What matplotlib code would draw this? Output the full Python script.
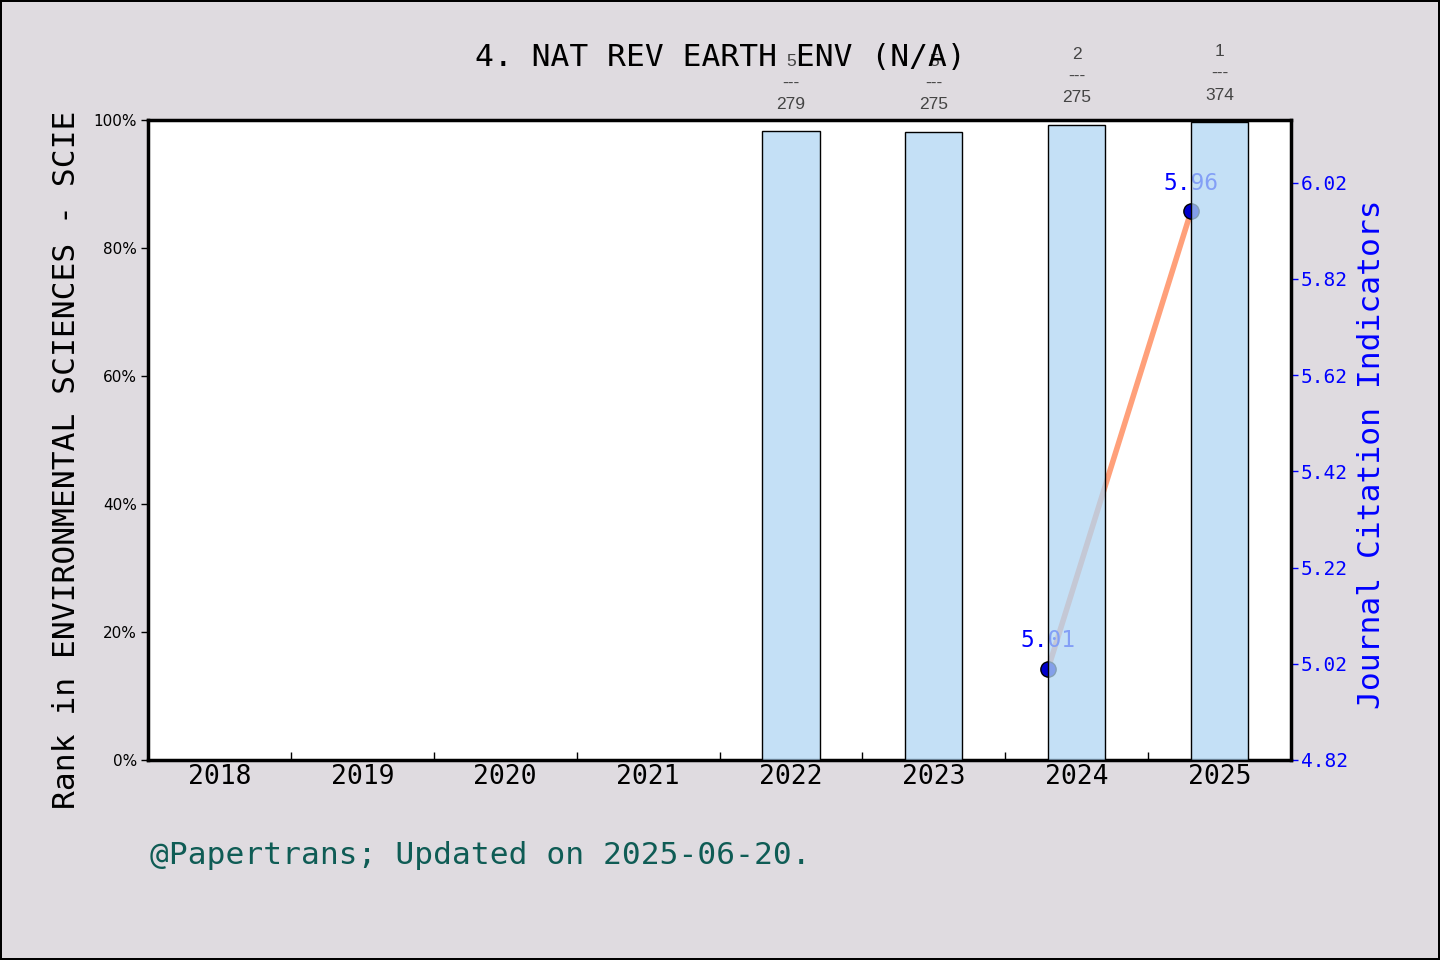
import matplotlib
matplotlib.use("Agg")
import matplotlib.pyplot as plt
import numpy as np

years = ["2018", "2019", "2020", "2021", "2022", "2023", "2024", "2025"]
rank_pos = [None, None, None, None, 5, 5, 2, 1]
rank_total = [None, None, None, None, 279, 275, 275, 374]
jci_years = ["2024", "2025"]
jci_values = [5.01, 5.96]

BG = "#dfdbe0"
MONO = "DejaVu Sans Mono"

fig = plt.figure(figsize=(14.4, 9.6), dpi=100, facecolor=BG)
fig.patch.set_edgecolor("black")
fig.patch.set_linewidth(1.5)

pos = [148 / 1440, 1 - 760 / 960, (1291 - 148) / 1440, (760 - 120) / 960]
ax2 = fig.add_axes(pos)   # line axis (drawn below)
ax = fig.add_axes(pos, sharex=ax2)  # bar axis (drawn on top)
ax2.set_zorder(1)
ax.set_zorder(2)
ax.patch.set_visible(False)
ax2.set_facecolor("white")

x = np.arange(len(years))

# bars
for i, (p, t) in enumerate(zip(rank_pos, rank_total)):
    if p is None:
        continue
    h = (1 - p / t) * 100
    ax.bar(x[i], h, width=0.4, facecolor=(0.69, 0.84, 0.955, 0.75),
           edgecolor=(0, 0, 0, 1), linewidth=1.0, zorder=3)
    ax.text(x[i], h + 3.0, f"{p}\n---\n{t}", ha="center", va="bottom",
            fontsize=12.5, color="#444444", family="Liberation Sans",
            linespacing=1.55, clip_on=False)

ax.set_xlim(-0.5, len(years) - 0.5)
ax.set_ylim(0, 100)
ax.set_yticks([0, 20, 40, 60, 80, 100])
ax.set_yticklabels([f"{v}%" for v in [0, 20, 40, 60, 80, 100]],
                   fontsize=11, family="DejaVu Sans")
ax.tick_params(axis="y", direction="out", length=5, width=1, pad=3)
ax.set_xticks(x)
ax.set_xticklabels(years, fontsize=19, family=MONO)
ax.tick_params(axis="x", which="major", length=0, pad=3)
ax.set_xticks(x[:-1] + 0.5, minor=True)
ax.tick_params(axis="x", which="minor", direction="in", length=6, width=1)
for s in ax.spines.values():
    s.set_linewidth(2.5)
    s.set_color("black")

# JCI line on a second axis drawn underneath the bars
ax2.yaxis.tick_right()
ax2.yaxis.set_label_position("right")
jx = [years.index(y) - 0.2 for y in jci_years]
lo = min(jci_values) - 0.19
hi = max(jci_values) + 0.19
ax2.set_ylim(lo, hi)
ticks = np.round(np.arange(lo, hi + 1e-9, 0.2), 2)
ax2.set_yticks(ticks)
ax2.set_yticklabels([f"{t:.2f}" for t in ticks], fontsize=14, family=MONO,
                    color="blue")
ax2.tick_params(axis="y", direction="out", length=5, width=1, colors="blue",
                pad=2)
ax2.tick_params(axis="x", which="both", length=0, labelbottom=False)
ax2.plot(jx, jci_values, color="#ffa07a", linewidth=4, zorder=2,
         solid_capstyle="round")
ax2.plot(jx, jci_values, linestyle="none", marker="o", markersize=11,
         markerfacecolor="#0000cd", markeredgecolor="black",
         markeredgewidth=1, zorder=3)
for xi, v in zip(jx, jci_values):
    ax2.annotate(f"{v:.2f}", (xi, v), xytext=(0, 12), textcoords="offset points",
                 ha="center", va="bottom", fontsize=16.5, family=MONO,
                 color="blue", zorder=4)
for s in ax2.spines.values():
    s.set_visible(False)

fig.text(0.5, 1 - 57 / 960, "4. NAT REV EARTH ENV (N/A)", ha="center",
         va="center", fontsize=22.5, family=MONO, color="black")
fig.text(67 / 1440, 1 - 460 / 960, "Rank in ENVIRONMENTAL SCIENCES - SCIE",
         rotation=90, ha="center", va="center", fontsize=22.5, family=MONO,
         color="black")
fig.text(1372 / 1440, 1 - 454 / 960, "Journal Citation Indicators",
         rotation=90, ha="center", va="center", fontsize=22.5, family=MONO,
         color="blue")
fig.text(150 / 1440, 1 - 855 / 960, "@Papertrans; Updated on 2025-06-20.",
         ha="left", va="center", fontsize=22.5, family=MONO, color="#0f5c55")

fig.savefig("out.png", dpi=100, facecolor=BG, edgecolor="black")
